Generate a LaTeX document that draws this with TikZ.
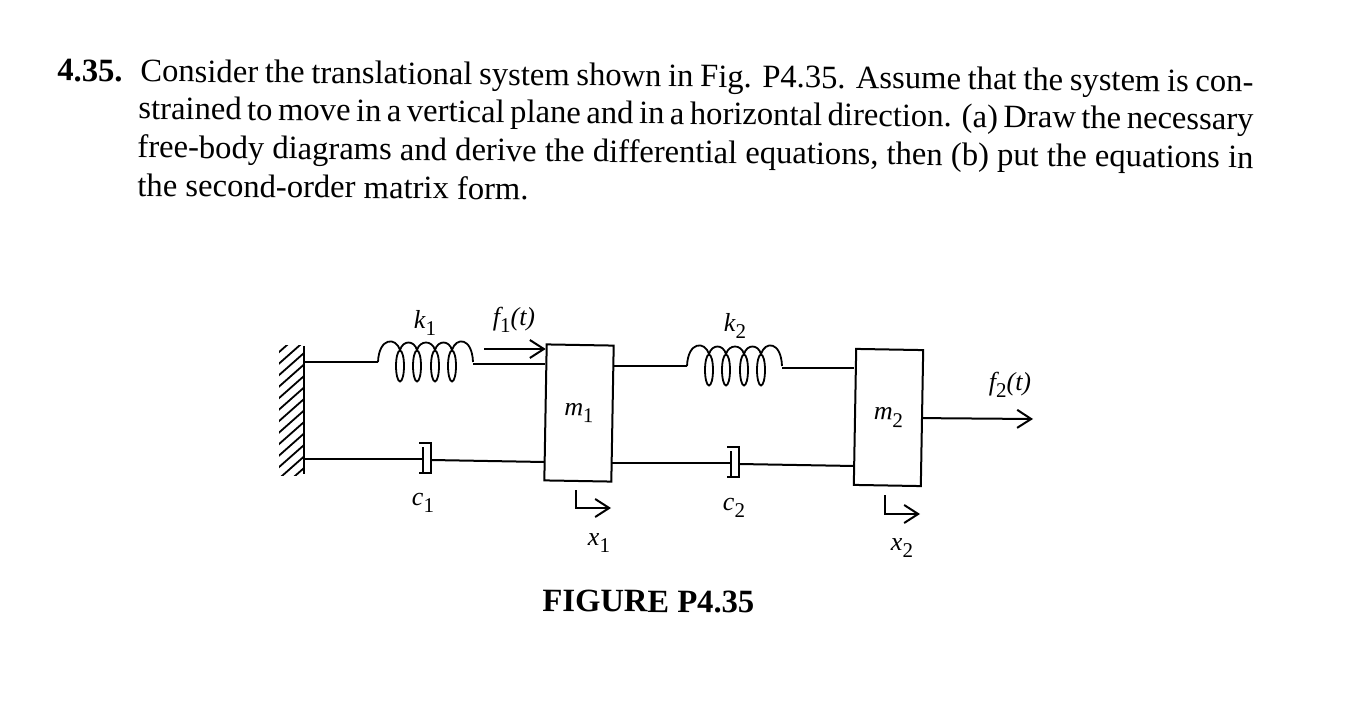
\documentclass[tikz,border=0pt]{standalone}
\usepackage{fontspec}
\setmainfont{Liberation Serif}
\usetikzlibrary{arrows.meta}
\tikzstyle{para} = [anchor=base west, inner sep=0pt, rotate=-0.55, font=\fontsize{16.3}{18}\selectfont]
\tikzstyle{mass} = [rectangle, draw, line width=1pt, minimum width=33.5pt, minimum height=68pt, rotate=-1, font=\fontsize{13}{15}\selectfont\itshape]
\tikzstyle{lab} = [inner sep=0pt, font=\fontsize{13}{15}\selectfont\itshape]
\tikzstyle{line} = [draw, line width=1pt]
\tikzstyle{force} = [draw, line width=1pt, -{Straight Barb[length=7pt,width=9pt]}]
\newcommand{\sub}[1]{\raisebox{-3.5pt}{\upshape\fontsize{10.5}{12}\selectfont #1}}
\newcommand{\coil}[1]{
  \begin{scope}[shift={(#1)}]
  \foreach \x in {22,39,57,74} \draw[line width=0.9pt] (\x,4) ellipse (4 and 15.5);
  \draw[line width=0.9pt] (0,0) .. controls (1,-25) and (18,-25) .. (22,-12)
    .. controls (25,-22) and (36,-22) .. (39,-12)
    .. controls (42,-22) and (54,-22) .. (57,-12)
    .. controls (60,-22) and (71,-22) .. (74,-12)
    .. controls (78,-25) and (94,-25) .. (95,0);
  \end{scope}
}
\newcommand{\dashpot}[1]{
  \begin{scope}[shift={(#1)}]
  \draw[line width=0.9pt] (5,-12) -- (5,13);
  \draw[line width=0.9pt] (1,-16) -- (13,-16) -- (13,14) -- (1,14);
  \end{scope}
}
\begin{document}
\begin{tikzpicture}[x=0.5pt, y=-0.5pt]
\useasboundingbox (0,0) rectangle (1368,726);
% problem text
\node[para, font=\fontsize{16.3}{18}\selectfont\bfseries] (num) at (57,81) {4.35.};
\node[para] (line1) at (140,81.5) {\makebox[556.5pt][s]{Consider the translational system shown in Fig. P4.35. Assume that the system is con-}};
\node[para] (line2) at (138,119) {\makebox[557.5pt][s]{strained to move in a vertical plane and in a horizontal direction. (a) Draw the necessary}};
\node[para] (line3) at (137,157.5) {\makebox[558pt][s]{free-body diagrams and derive the differential equations, then (b) put the equations in}};
\node[para] (line4) at (137,196) {the second-order matrix form.};
\node[para, font=\fontsize{16.3}{18}\selectfont\bfseries] (figname) at (542,611) {FIGURE P4.35};
% masses
\node[mass] (m1) at (579,413) {m\sub{1}};
\node[mass] (m2) at (888.5,417.5) {m\sub{2}};
% wall
\coordinate (wallT) at (304,346);
\coordinate (wallB) at (304,474);
\draw[line width=1pt] (wallT) -- (wallB);
\begin{scope}
\clip (279,346) rectangle (304,475);
\foreach \y in {330,341.5,...,470} \draw[line width=0.9pt] (304,\y) -- (278,\y+23);
\end{scope}
% springs
\coordinate (k1l) at (378,362);
\coordinate (k1r) at (473,364);
\coordinate (k2l) at (687,366);
\coordinate (k2r) at (782,368);
\coil{k1l}
\coil{k2l}
\path[line] (k1l -| wallT) -- (k1l);
\path[line] (k1r) -- (k1r -| m1.west);
\path[line] (m1.east |- k2l) -- (k2l);
\path[line] (k2r) -- (k2r -| m2.west);
% dampers
\coordinate (c1l) at (418,459);
\coordinate (c1p) at (423,459);
\coordinate (c1r) at (431,460);
\coordinate (c2l) at (726,463);
\coordinate (c2p) at (731,463);
\coordinate (c2r) at (739,464);
\coordinate (m1a) at (544.5,462);
\coordinate (m1b) at (611,463);
\coordinate (m2a) at (854.5,466);
\dashpot{c1l}
\dashpot{c2l}
\path[line] (c1l -| wallB) -- (c1p);
\path[line] (c1r) -- (m1a);
\path[line] (m1b) -- (c2p);
\path[line] (c2r) -- (m2a);
% forces
\coordinate (f1s) at (484,349);
\coordinate (f2e) at (1033,419);
\coordinate (x1s) at (576,490);
\coordinate (x1e) at (611,508);
\coordinate (x2s) at (885,495);
\coordinate (x2e) at (920,514);
\path[force] (f1s) -- (f1s -| m1.north west);
\path[force] (m2.east) -- (f2e);
\path[force] (x1s) |- (x1e);
\path[force] (x2s) |- (x2e);
% labels
\node[lab] (k1) at (425,323) {k\sub{1}};
\node[lab] (k2) at (735,326) {k\sub{2}};
\node[lab] (c1) at (423,503) {c\sub{1}};
\node[lab] (c2) at (734,508) {c\sub{2}};
\node[lab] (x1) at (599,543) {x\sub{1}};
\node[lab] (x2) at (902,548) {x\sub{2}};
\node[lab] (f1) at (514,320) {f\sub{1}(t)};
\node[lab] (f2) at (1010,385) {f\sub{2}(t)};
\end{tikzpicture}
\end{document}
